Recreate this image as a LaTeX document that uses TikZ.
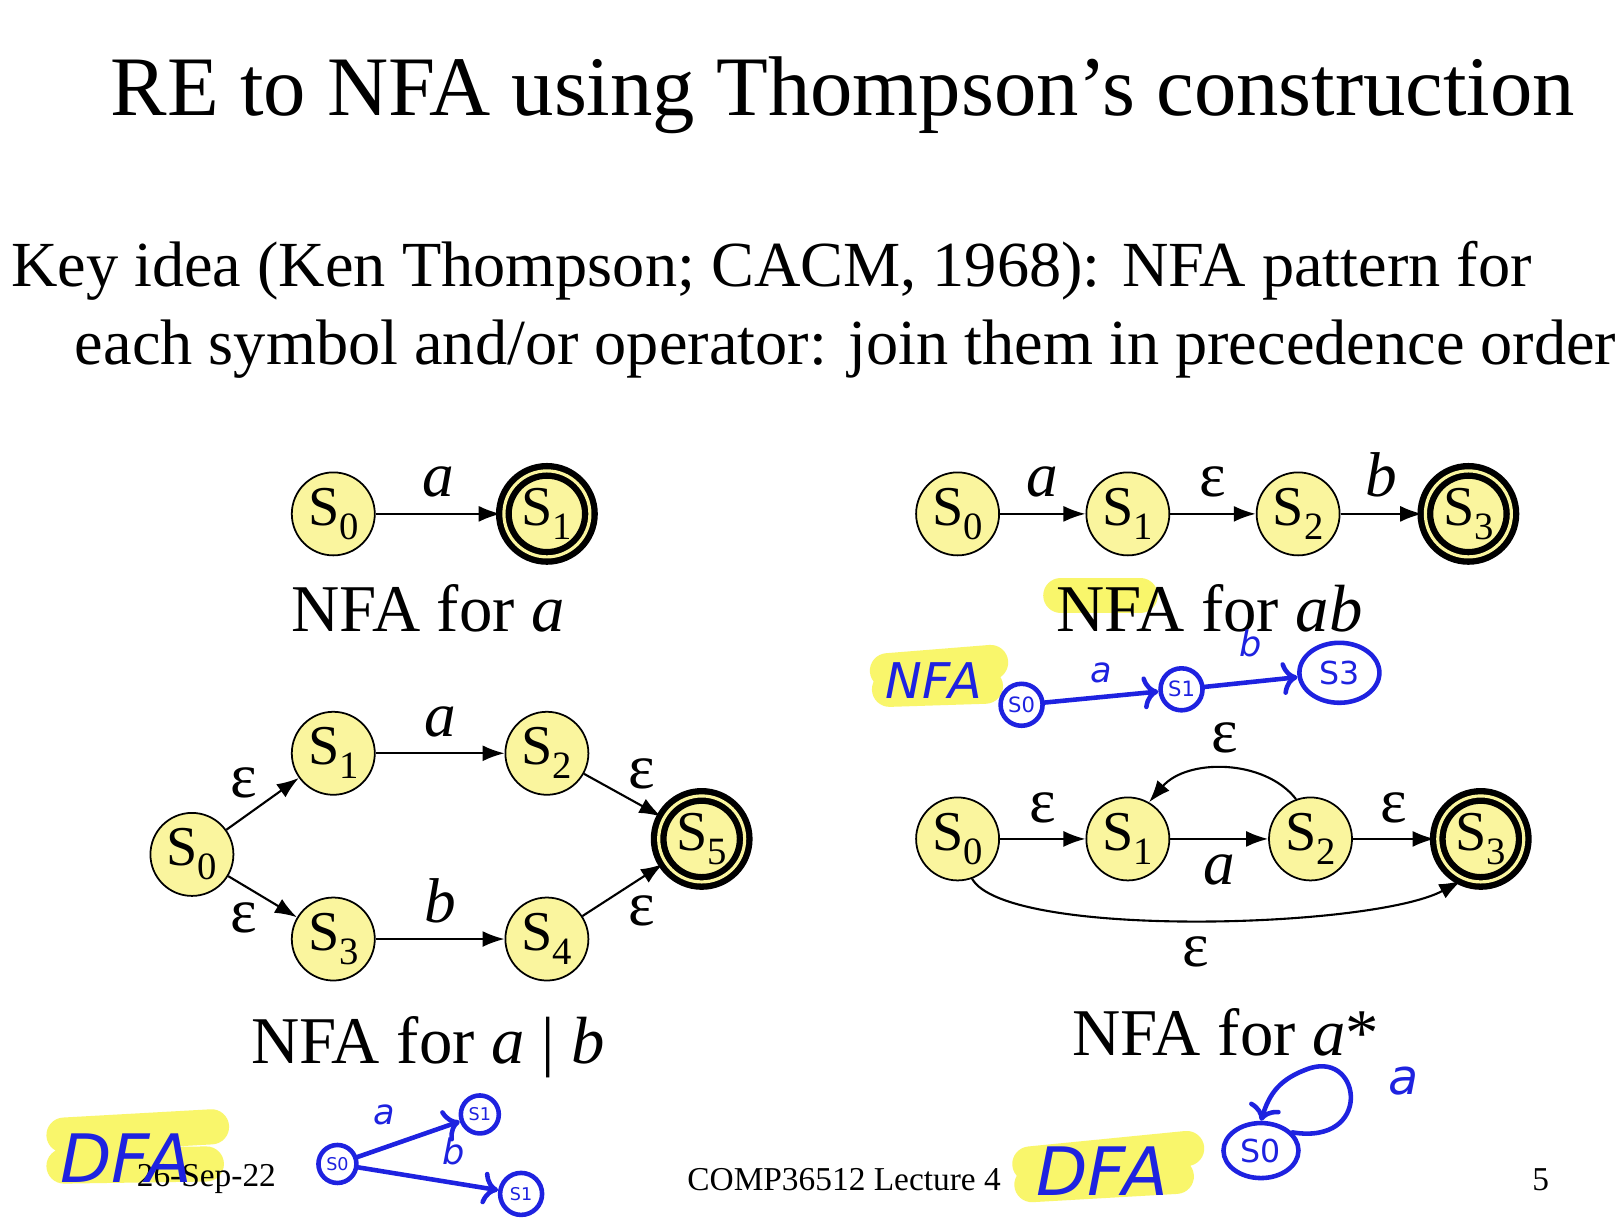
\documentclass[tikz,border=0pt]{standalone}
\usepackage{fontspec}
\setmainfont{Liberation Serif}
\newfontfamily\hand{DejaVu Sans}
\usetikzlibrary{arrows.meta,shapes.geometric}
\definecolor{stfill}{HTML}{FAF59E}
\definecolor{hl}{HTML}{F7F43A}
\definecolor{ink}{HTML}{1E22E0}
\newcommand{\sub}[1]{\raisebox{-0.25em}{\fontsize{11}{11}\selectfont #1}}
\begin{document}
\begin{tikzpicture}[x=0.1032mm,y=-0.1032mm,
  st/.style={circle,draw,fill=stfill,minimum size=8.3mm,inner sep=0pt,line width=0.5pt,font=\fontsize{16}{16}\selectfont},
  acc/.style={st,double=stfill,double distance=0.9pt,line width=1.8pt,minimum size=8.6mm},
  tr/.style={-{Latex[length=2.2mm,width=1.6mm]},line width=0.6pt},
  lb/.style={font=\fontsize{18}{18}\selectfont},
  captxt/.style={font=\fontsize{19}{20}\selectfont},
  hd/.style={ink,line width=1.3pt,line cap=round},
  hdt/.style={ink,font=\hand\itshape\fontsize{10}{10}\selectfont},
  hla/.style={hl,opacity=0.75,line width=10pt,line cap=round}]
\useasboundingbox (0,0) rectangle (1568,1186);
\fill[white] (0,0) rectangle (1568,1186);
% highlights
\draw[hla] (1028,577) -- (1105,577);
\draw[hla] (860,650) -- (960,642) (862,668) -- (955,665);
\draw[hla] (62,1100) -- (205,1092) (62,1130) -- (200,1128);
\draw[hla] (998,1128) -- (1150,1113) (1000,1148) -- (1140,1140);
% title and text
\node[font=\fontsize{24.1}{25}\selectfont] (title) at (817,92) {RE to NFA using Thompson’s construction};
\node[anchor=west,inner sep=0pt,font=\fontsize{18.3}{20}\selectfont] (k1) at (10,262) {Key idea (Ken Thompson; CACM, 1968): NFA pattern for};
\node[anchor=west,inner sep=0pt,font=\fontsize{18.3}{20}\selectfont] (k2) at (72,338) {each symbol and/or operator: join them in precedence order};
% NFA a
\node[st] (a0) at (323,498) {S\sub{0}};
\node[acc] (a1) at (530,498) {S\sub{1}};
\draw[tr] (a0) -- node[lb,above=1pt]{\textit{a}} (a1);
\node[captxt] (ca) at (415,590) {NFA for \textit{a}};
% NFA ab
\node[st] (b0) at (928,498) {S\sub{0}};
\node[st] (b1) at (1093,498) {S\sub{1}};
\node[st] (b2) at (1258,498) {S\sub{2}};
\node[acc] (b3) at (1423,498) {S\sub{3}};
\draw[tr] (b0) -- node[lb,above=1pt]{\textit{a}} (b1);
\draw[tr] (b1) -- node[lb,above=1pt]{ε} (b2);
\draw[tr] (b2) -- node[lb,above=1pt]{\textit{b}} (b3);
\node[captxt] (cab) at (1172,590) {NFA for \textit{ab}};
% NFA a|b
\node[st] (c0) at (186,828) {S\sub{0}};
\node[st] (c1) at (323,730) {S\sub{1}};
\node[st] (c2) at (530,730) {S\sub{2}};
\node[st] (c3) at (323,910) {S\sub{3}};
\node[st] (c4) at (530,910) {S\sub{4}};
\node[acc] (c5) at (680,813) {S\sub{5}};
\draw[tr] (c0) -- node[lb,above left=-2pt]{ε} (c1);
\draw[tr] (c0) -- node[lb,below left=-2pt]{ε} (c3);
\draw[tr] (c1) -- node[lb,above=1pt]{\textit{a}} (c2);
\draw[tr] (c3) -- node[lb,above=1pt]{\textit{b}} (c4);
\draw[tr] (c2) -- node[lb,above right=-2pt]{ε} (c5);
\draw[tr] (c4) -- node[lb,below right=-2pt]{ε} (c5);
\node[captxt] (cor) at (415,1015) {NFA for \textit{a} | \textit{b}};
% NFA a*
\node[st] (d0) at (928,813) {S\sub{0}};
\node[st] (d1) at (1093,813) {S\sub{1}};
\node[st] (d2) at (1270,813) {S\sub{2}};
\node[acc] (d3) at (1435,813) {S\sub{3}};
\draw[tr] (d0) -- node[lb,above=1pt]{ε} (d1);
\draw[tr] (d1) -- node[lb,below=1pt]{\textit{a}} (d2);
\draw[tr] (d2) -- node[lb,above=1pt]{ε} (d3);
\draw[tr] (d2.110) .. controls (1225,735) and (1150,735) .. node[lb,above=1pt]{ε} (d1.60);
\draw[tr] (d0.-70) .. controls (975,910) and (1330,900) .. node[lb,below=1pt]{ε} (d3.-115);
\node[captxt] (cst) at (1188,1000) {NFA for \textit{a}*};
% footer
\node[font=\fontsize{9.5}{10}\selectfont] (f1) at (200,1143) {26-Sep-22};
\node[font=\fontsize{9.5}{10}\selectfont] (f2) at (818,1143) {COMP36512 Lecture 4};
\node[font=\fontsize{9.5}{10}\selectfont] (f3) at (1493,1143) {5};
% handwriting
\node[hdt,font=\hand\itshape\fontsize{14}{14}\selectfont] (hn) at (905,660) {NFA};
\node[draw,hd,circle,minimum size=4.2mm,inner sep=0pt,hdt,font=\hand\fontsize{6}{6}\selectfont] (h0) at (990,683) {S0};
\node[draw,hd,circle,minimum size=4.2mm,inner sep=0pt,hdt,font=\hand\fontsize{6}{6}\selectfont] (h1) at (1145,668) {S1};
\node[draw,hd,ellipse,minimum width=8mm,minimum height=6mm,inner sep=0pt,hdt,font=\hand\fontsize{9}{9}\selectfont] (h3) at (1298,652) {S3};
\draw[hd,->] (h0) -- node[hdt,above]{a} (h1);
\draw[hd,->] (h1) -- node[hdt,above=3pt]{b} (h3);
\node[hdt,font=\hand\itshape\fontsize{19}{19}\selectfont] (hd1) at (122,1122) {DFA};
\node[draw,hd,circle,minimum size=3.8mm,inner sep=0pt,hdt,font=\hand\fontsize{5}{5}\selectfont] (g0) at (327,1128) {S0};
\node[draw,hd,circle,minimum size=3.8mm,inner sep=0pt,hdt,font=\hand\fontsize{5}{5}\selectfont] (g1) at (465,1080) {S1};
\node[draw,hd,circle,minimum size=4.2mm,inner sep=0pt,hdt,font=\hand\fontsize{5}{5}\selectfont] (g2) at (505,1157) {S1};
\draw[hd,->] (g0) -- node[hdt,above left]{a} (g1);
\draw[hd,->] (g0) -- node[hdt,above right]{b} (g2);
\node[hdt,font=\hand\itshape\fontsize{19}{19}\selectfont] (hd2) at (1068,1135) {DFA};
\node[draw,hd,ellipse,minimum width=7.5mm,minimum height=5.5mm,inner sep=0pt,hdt,font=\hand\fontsize{9}{9}\selectfont] (e0) at (1222,1115) {S0};
\draw[hd,->] (e0.30) .. controls (1330,1110) and (1320,1020) .. (1270,1035) .. controls (1240,1045) and (1230,1060) .. (e0.90);
\node[hdt,font=\hand\itshape\fontsize{14}{14}\selectfont] (ea) at (1360,1048) {a};
\end{tikzpicture}
\end{document}
